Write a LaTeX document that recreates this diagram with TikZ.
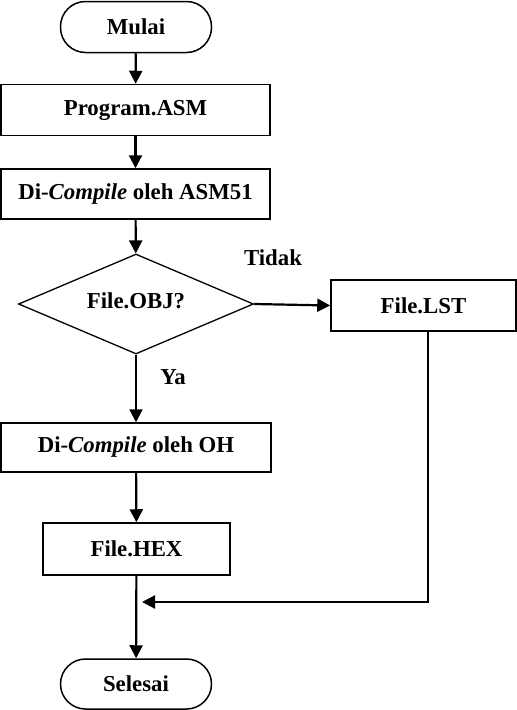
\documentclass[tikz,border=0pt]{standalone}
\usepackage{fontspec}
\setmainfont{Liberation Serif}
\usetikzlibrary{positioning,shapes.geometric,arrows.meta}

\begin{document}
\begin{tikzpicture}[x=1pt,y=-1pt,
	txt/.style={font=\fontsize{22.8}{26}\selectfont\bfseries},
	box/.style={txt,draw,line width=1.5pt,inner sep=0pt,minimum height=51pt},
	term/.style={box,rounded corners=25pt,minimum width=151pt},
	dec/.style={txt,draw,diamond,line width=1.3pt,inner sep=0pt,minimum width=235pt,minimum height=100pt,aspect=2.35},
	flow/.style={line width=2.2pt,-{Triangle[length=13pt,width=13pt]}}]
	\useasboundingbox (0,0) rectangle (517,710);
	\def\cx{136}
	
	% main column
	\node[term] (mulai) at (\cx,27) {Mulai};
	\node[box,minimum width=269pt] (prog) at (135.5,110) {Program.ASM};
	\node[box,minimum width=269pt,minimum height=50pt] (asm) at (135.5,194) {Di-\textit{Compile} oleh ASM51};
	\node[dec] (obj) at (\cx,304) {\raisebox{6pt}{File.OBJ?}};
	\node[box,minimum width=270pt,minimum height=49pt] (oh) at (136,447.5) {Di-\textit{Compile} oleh OH};
	\node[box,minimum width=187pt,minimum height=52pt] (hex) at (136.5,549) {File.HEX};
	\node[term,minimum height=50pt] (selesai) at (\cx,684) {Selesai};
	
	% right branch
	\node[box,minimum width=185pt] (lst) at (423.5,305.5) {File.LST};
	\node[txt] (tidak) at (273,258) {Tidak};
	\node[txt] (ya) at (173,377) {Ya};
	
	\draw[flow] (mulai) -- (prog);
	\draw[flow] (prog) -- (asm);
	\draw[flow] (asm) -- (obj);
	\draw[flow] (obj) -- (oh);
	\draw[flow] (oh) -- (hex);
	\draw[flow] (hex) -- (selesai);
	\draw[flow] (obj.east) -- (lst.west);
	
	% back to the end
	\coordinate (join) at (142,602);
	\draw[flow] (lst.south -| 428,0) |- (join);
\end{tikzpicture}
\end{document}
